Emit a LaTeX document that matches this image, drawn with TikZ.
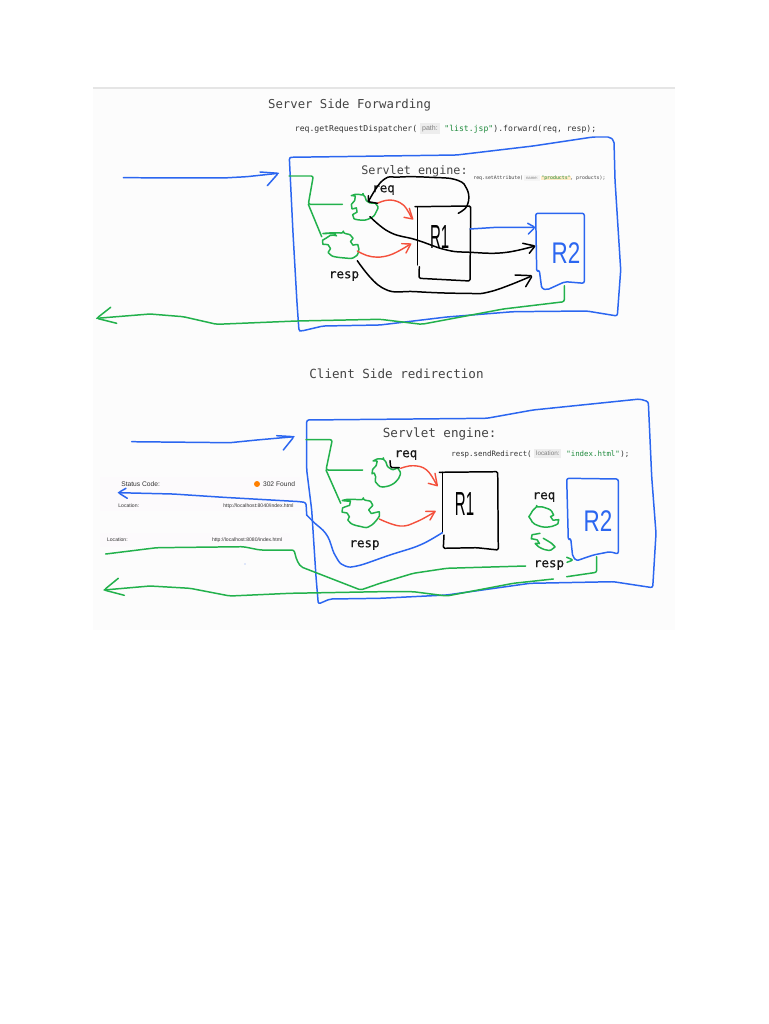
\documentclass[tikz,border=0pt]{standalone}
\usepackage{fontspec}
\setmainfont{Liberation Sans}
\setmonofont{DejaVu Sans Mono}
\newfontfamily\handfont{DejaVu Sans Mono}[FakeBold=0.35]
\definecolor{penblue}{HTML}{2B66F0}
\definecolor{pengreen}{HTML}{22B14C}
\definecolor{penred}{HTML}{F4503C}
\definecolor{codegreen}{HTML}{1E8A3C}
\definecolor{inkgray}{HTML}{444444}
\tikzset{
  bluepen/.style={draw=penblue,line width=0.85pt,line cap=round,line join=round,rounded corners=1.2pt},
  greenpen/.style={draw=pengreen,line width=0.85pt,line cap=round,line join=round,rounded corners=1.2pt},
  redpen/.style={draw=penred,line width=0.8pt,line cap=round,line join=round},
  blackpen/.style={draw=black,line width=0.85pt,line cap=round,line join=round,rounded corners=0.8pt},
  titletext/.style={font=\ttfamily\fontsize{7}{8}\selectfont,text=inkgray},
  handtext/.style={font=\handfont\fontsize{7.1}{8}\selectfont,text=black!90},
  bigcode/.style={anchor=west,font=\ttfamily\fontsize{4.63}{5}\selectfont,text=black!80},
  midcode/.style={anchor=west,font=\ttfamily\fontsize{4.22}{5}\selectfont,text=black!80},
  tinycode/.style={anchor=west,font=\ttfamily\fontsize{2.77}{3}\selectfont,text=black!75},
  hintbox/.style={anchor=west,fill=black!7,text=black!50,inner xsep=1pt,inner ysep=1pt},
  infotext/.style={anchor=west,font=\fontsize{3.8}{5}\selectfont,text=black!80},
  smalltext/.style={anchor=west,font=\fontsize{2.9}{3}\selectfont,text=black!80},
  roomname/.style={font=\fontsize{19}{20}\selectfont}
}
\begin{document}
\begin{tikzpicture}[x=0.02cm,y=0.02cm]
\tikzstyle{every node}+=[inner sep=0pt]
\useasboundingbox [fill=white] (0,0) rectangle (768,-1024);
\fill [black!1] (93,-89) rectangle (675,-630);
\fill [black!10] (93,-87.5) rectangle (675,-89);
\fill [violet!2] (100,-477) rectangle (300,-511);
\fill [violet!2] (100,-533) rectangle (290,-547);
%
% server side forwarding
\node (forwardtitle) [titletext] at (349.6,-105) {Server Side Forwarding};
\node (forwardcode) [bigcode] at (294.5,-129) {req.getRequestDispatcher(};
\node (forwardhint) [hintbox,font=\fontsize{4}{5}\selectfont] at (420,-128.5) {path:};
\node (forwardpath) [bigcode,text=codegreen] at (444,-129) {"list.jsp"};
\node (forwardrest) [bigcode] at (493,-129) {).forward(req, resp);};
\node (engineone) [titletext,font=\ttfamily\fontsize{6.7}{8}\selectfont] at (414.5,-171) {Servlet engine:};
\node (attrcode) [tinycode] at (473,-178) {req.setAttribute(};
\node (attrhint) [hintbox,font=\fontsize{2.4}{3}\selectfont,fill=black!4] at (524,-178) {name:};
\node (attrname) [tinycode,fill=yellow!30!orange!20,text=codegreen] at (541,-178) {"products"};
\node (attrrest) [tinycode] at (570,-178) {, products);};
\node (reqone) [handtext] at (383.5,-190) {req};
\node (respone) [handtext] at (344,-276) {resp};
\node (roomone) [roomname] at (439.6,-237) {\scalebox{0.45}[1]{R1}};
\node (roomtwo) [roomname,text=penblue,font=\fontsize{17}{18}\selectfont] at (566,-253) {\scalebox{0.75}[1]{R2}};
%
\draw [bluepen] (289.3,-157.3) -- (456.7,-155) -- (533,-146) -- (593,-137) -- (610,-137) -- (614,-140.7) -- (615,-180) -- (620.7,-270) -- (617.3,-316) -- (586.7,-311) -- (513,-311.7) -- (446.7,-317) -- (380,-325) -- (323,-326) -- (301.7,-331) -- (299,-331) -- (297,-303) -- (293,-233) -- cycle;
\draw [bluepen] (123.3,-177.7) -- (223,-178) -- (246.7,-176.7) -- (278.3,-173.3);
\draw [bluepen] (260,-172) -- (278.3,-173.3) -- (267.3,-185.7);
\draw [greenpen] (289,-176) -- (313.3,-176) -- (308.3,-204.3) -- (342.3,-204.3);
\draw [greenpen] (308.3,-204.3) -- (321.7,-236.7);
\draw [greenpen] plot [smooth cycle,tension=0.8] coordinates {(353.3,-195) (363,-195.7) (368,-201.7) (376.7,-205) (376,-212.3) (370,-218.3) (360,-220) (353.3,-216.7) (356.7,-210) (351.7,-206.7) (355,-198.3)};
\draw [greenpen] plot [smooth cycle,tension=0.7] coordinates {(325,-233.3) (343.3,-233.3) (351.7,-236.7) (351.7,-243.3) (358.3,-246.7) (355,-256.7) (341.7,-257.7) (330,-254.3) (329.3,-246.7) (322.7,-242.3) (328.3,-236.7) (335,-234.3)};
\draw [redpen] plot [smooth,tension=0.7] coordinates {(377.3,-203.3) (390,-200) (403.3,-205) (411.7,-218.3)};
\draw [redpen] (404,-217.3) -- (412.7,-219) -- (409.3,-208.3);
\draw [redpen] plot [smooth,tension=0.7] coordinates {(357.3,-251) (371.7,-256.7) (390,-255) (410,-244.3)};
\draw [redpen] (401.7,-243.7) -- (410.7,-244) -- (406,-253);
\draw [blackpen] (415,-206.7) -- (470.7,-206) -- (470,-281) -- (419,-278.3) -- (419.3,-266.7);
\draw [blackpen] (417.3,-207.3) -- (417.3,-265);
\draw [blackpen] plot [smooth,tension=0.7] coordinates {(458.3,-213.3) (467.3,-205) (467.3,-190) (456.7,-180) (430,-177.3) (400,-177) (383.3,-180) (368.3,-201.7)};
\draw [blackpen] (368.3,-195.7) -- (368.3,-201.7) -- (377.3,-203.3);
\draw [blackpen] plot [smooth,tension=0.7] coordinates {(370,-216.7) (390,-232.3) (416.7,-240) (446.7,-250) (470,-252.3) (503.3,-252.7) (535,-246)};
\draw [blackpen] (522.7,-243.3) -- (535,-246) -- (529.3,-253.3);
\draw [blackpen] plot [smooth,tension=0.7] coordinates {(357.3,-260.7) (383.3,-288.3) (416.7,-291.7) (463.3,-293.3) (490,-291.7) (530,-276.7)};
\draw [blackpen] (515,-275) -- (532.3,-275.7) -- (525.7,-286.7);
\draw [bluepen] (470,-229) -- (496.7,-227.3) -- (535,-227.3);
\draw [bluepen] (527.7,-223.3) -- (535,-227.3) -- (528.3,-234);
\draw [bluepen] (535.7,-213.3) -- (584.3,-213.3) -- (584.3,-283.3) -- (565,-281.7) -- (546.7,-290) -- (541.7,-288.3) -- (539.3,-270) -- (536.7,-271.7) -- cycle;
\draw [greenpen] (564.3,-285.7) -- (564.3,-301.7) -- (503.3,-309) -- (421.7,-324.3) -- (380,-319.3) -- (296.7,-321) -- (216.7,-324.3) -- (183.3,-316.7) -- (150,-314) -- (96.7,-318.3);
\draw [greenpen] (110.7,-307.3) -- (96.7,-318.3) -- (116.7,-323.3);
%
% client side redirection
\node (redirecttitle) [titletext,font=\ttfamily\fontsize{7.16}{8}\selectfont] at (396.5,-374) {Client Side redirection};
\node (enginetwo) [titletext,font=\ttfamily\fontsize{7.16}{8}\selectfont] at (439.7,-434) {Servlet engine:};
\node (sendcode) [midcode] at (451,-454) {resp.sendRedirect(};
\node (sendhint) [hintbox,font=\fontsize{3.6}{5}\selectfont] at (534,-453.5) {location:};
\node (sendpath) [midcode,text=codegreen] at (566,-454) {"index.html"};
\node (sendrest) [midcode] at (620,-454) {);};
\node (reqtwo) [handtext] at (406,-455) {req};
\node (resptwo) [handtext] at (364.5,-545) {resp};
\node (reqthree) [handtext] at (544,-497) {req};
\node (respthree) [handtext] at (549,-565) {resp};
\node (roomthree) [roomname] at (464.5,-504) {\scalebox{0.45}[1]{R1}};
\node (roomfour) [roomname,text=penblue,font=\fontsize{17}{18}\selectfont] at (598,-521.5) {\scalebox{0.75}[1]{R2}};
\node (statuslabel) [infotext] at (121,-484) {Status Code:};
\node (statusvalue) [infotext] at (262.7,-484) {302 Found};
\node (statusdot) [circle,fill=orange,minimum size=3.4pt] at (257,-484) {};
\node (locationone) [smalltext] at (118,-505.7) {Location:};
\node (urlone) [smalltext] at (223,-505.7) {http://localhost:8040/index.html};
\node (locationtwo) [smalltext] at (106.7,-540) {Location:};
\node (urltwo) [smalltext] at (211.7,-540) {http://localhost:8080/index.html};
\node (speck) [circle,fill=penblue!60,minimum size=0.8pt] at (245,-564) {};
%
\draw [bluepen] (306.7,-420) -- (486.7,-418.3) -- (533,-410) -- (640,-399) -- (648.3,-401.7) -- (651.7,-476.7) -- (656,-533.3) -- (652.7,-587.7) -- (613.3,-581.7) -- (530,-583.3) -- (446.7,-595) -- (380,-598.3) -- (330,-599) -- (318.3,-604) -- (316,-576.7) -- (311.7,-510) -- (306.7,-470) -- cycle;
\draw [bluepen] (131.7,-441.7) -- (230,-442.7) -- (256.7,-440) -- (294,-436.7);
\draw [bluepen] (276.7,-435.7) -- (294,-436.7) -- (283.3,-450);
\draw [greenpen] (306,-439.7) -- (332.3,-439.7) -- (326,-470) -- (362.7,-470);
\draw [greenpen] (326,-470) -- (340.7,-503.3);
\draw [greenpen] plot [smooth cycle,tension=0.8] coordinates {(375,-460) (383.3,-460) (390,-468.3) (399,-470) (397.3,-480) (385,-486.7) (376.7,-483.3) (375,-475) (372.3,-471.7) (376.7,-463.3)};
\draw [blackpen] (390,-460.7) -- (390.7,-467.7) -- (399.3,-467.7);
\draw [greenpen] plot [smooth cycle,tension=0.7] coordinates {(344.3,-500) (363.3,-500) (371.7,-503.3) (370,-511.7) (379.3,-514) (370,-526) (358.3,-526) (349.3,-521.7) (348.3,-515) (342.3,-510) (350,-503.3)};
\draw [redpen] plot [smooth,tension=0.7] coordinates {(400.7,-468.3) (413.3,-465.7) (426.7,-470) (436.7,-485)};
\draw [redpen] (428.3,-483.3) -- (437.3,-485.7) -- (435,-473.3);
\draw [redpen] plot [smooth,tension=0.7] coordinates {(379.3,-519) (400,-526) (416.7,-521.7) (435,-511.7)};
\draw [redpen] (425.7,-511.3) -- (435,-511.3) -- (430,-520);
\draw [blackpen] (439.3,-472.3) -- (497.7,-471.7) -- (498.3,-550) -- (476.7,-547.7) -- (443.3,-548.3) -- (444,-535);
\draw [blackpen] (442.3,-472.3) -- (442.3,-532.7);
\draw [bluepen] plot [smooth,tension=0.6] coordinates {(442.3,-532.7) (420,-545) (390,-555) (356.7,-566) (343.3,-565) (335,-555) (326.7,-535) (313.3,-521.7) (306.7,-515)};
\draw [bluepen] (306.7,-515) -- (306,-502.7) -- (301,-501.7) -- (223.3,-497.3) -- (173,-494) -- (118.3,-492.7);
\draw [bluepen] (126,-488.3) -- (118.3,-492.7) -- (127.3,-498.3);
\draw [greenpen] (525.7,-566) -- (480,-567.3) -- (446.7,-568.3) -- (413.3,-573.3) -- (380,-583.3) -- (360.7,-590) -- (300.7,-566.7) -- (296.7,-560) -- (294,-550) -- (260,-550) -- (243.3,-546.7) -- (156.7,-547.7) -- (105.7,-554);
\draw [greenpen] (566.7,-557.3) -- (573.3,-560) -- (567,-562.3);
\draw [bluepen] (566.7,-478.3) -- (618.3,-479) -- (618.3,-554) -- (610,-551.7) -- (593.3,-555) -- (576.7,-560.7) -- (572.7,-556.7) -- (570.7,-538.3) -- (568.3,-540) -- cycle;
\draw [greenpen] (596.7,-556.7) -- (596.7,-572.3) -- (566.7,-576.7);
\draw [greenpen] (553.3,-579) -- (513.3,-583.3) -- (446.7,-596) -- (413.3,-591.7) -- (380,-591.7) -- (290,-593.3) -- (230,-596) -- (190,-588.3) -- (150,-586) -- (104,-590);
\draw [greenpen] (118.3,-578.3) -- (104,-590) -- (124.3,-595.3);
\draw [greenpen] plot [smooth cycle,tension=0.8] coordinates {(530,-515) (536.7,-507.7) (546.7,-508.3) (552.7,-513.3) (551.7,-518.3) (558.3,-521.7) (550,-526.7) (536.7,-525) (530,-518.3)};
\draw [greenpen] plot [smooth,tension=0.8] coordinates {(540,-533.3) (531.7,-536.7) (538.3,-541.7) (536.7,-545) (546.7,-550) (553.3,-548.3) (553.3,-545) (543.3,-538.3)};
\end{tikzpicture}
\end{document}
